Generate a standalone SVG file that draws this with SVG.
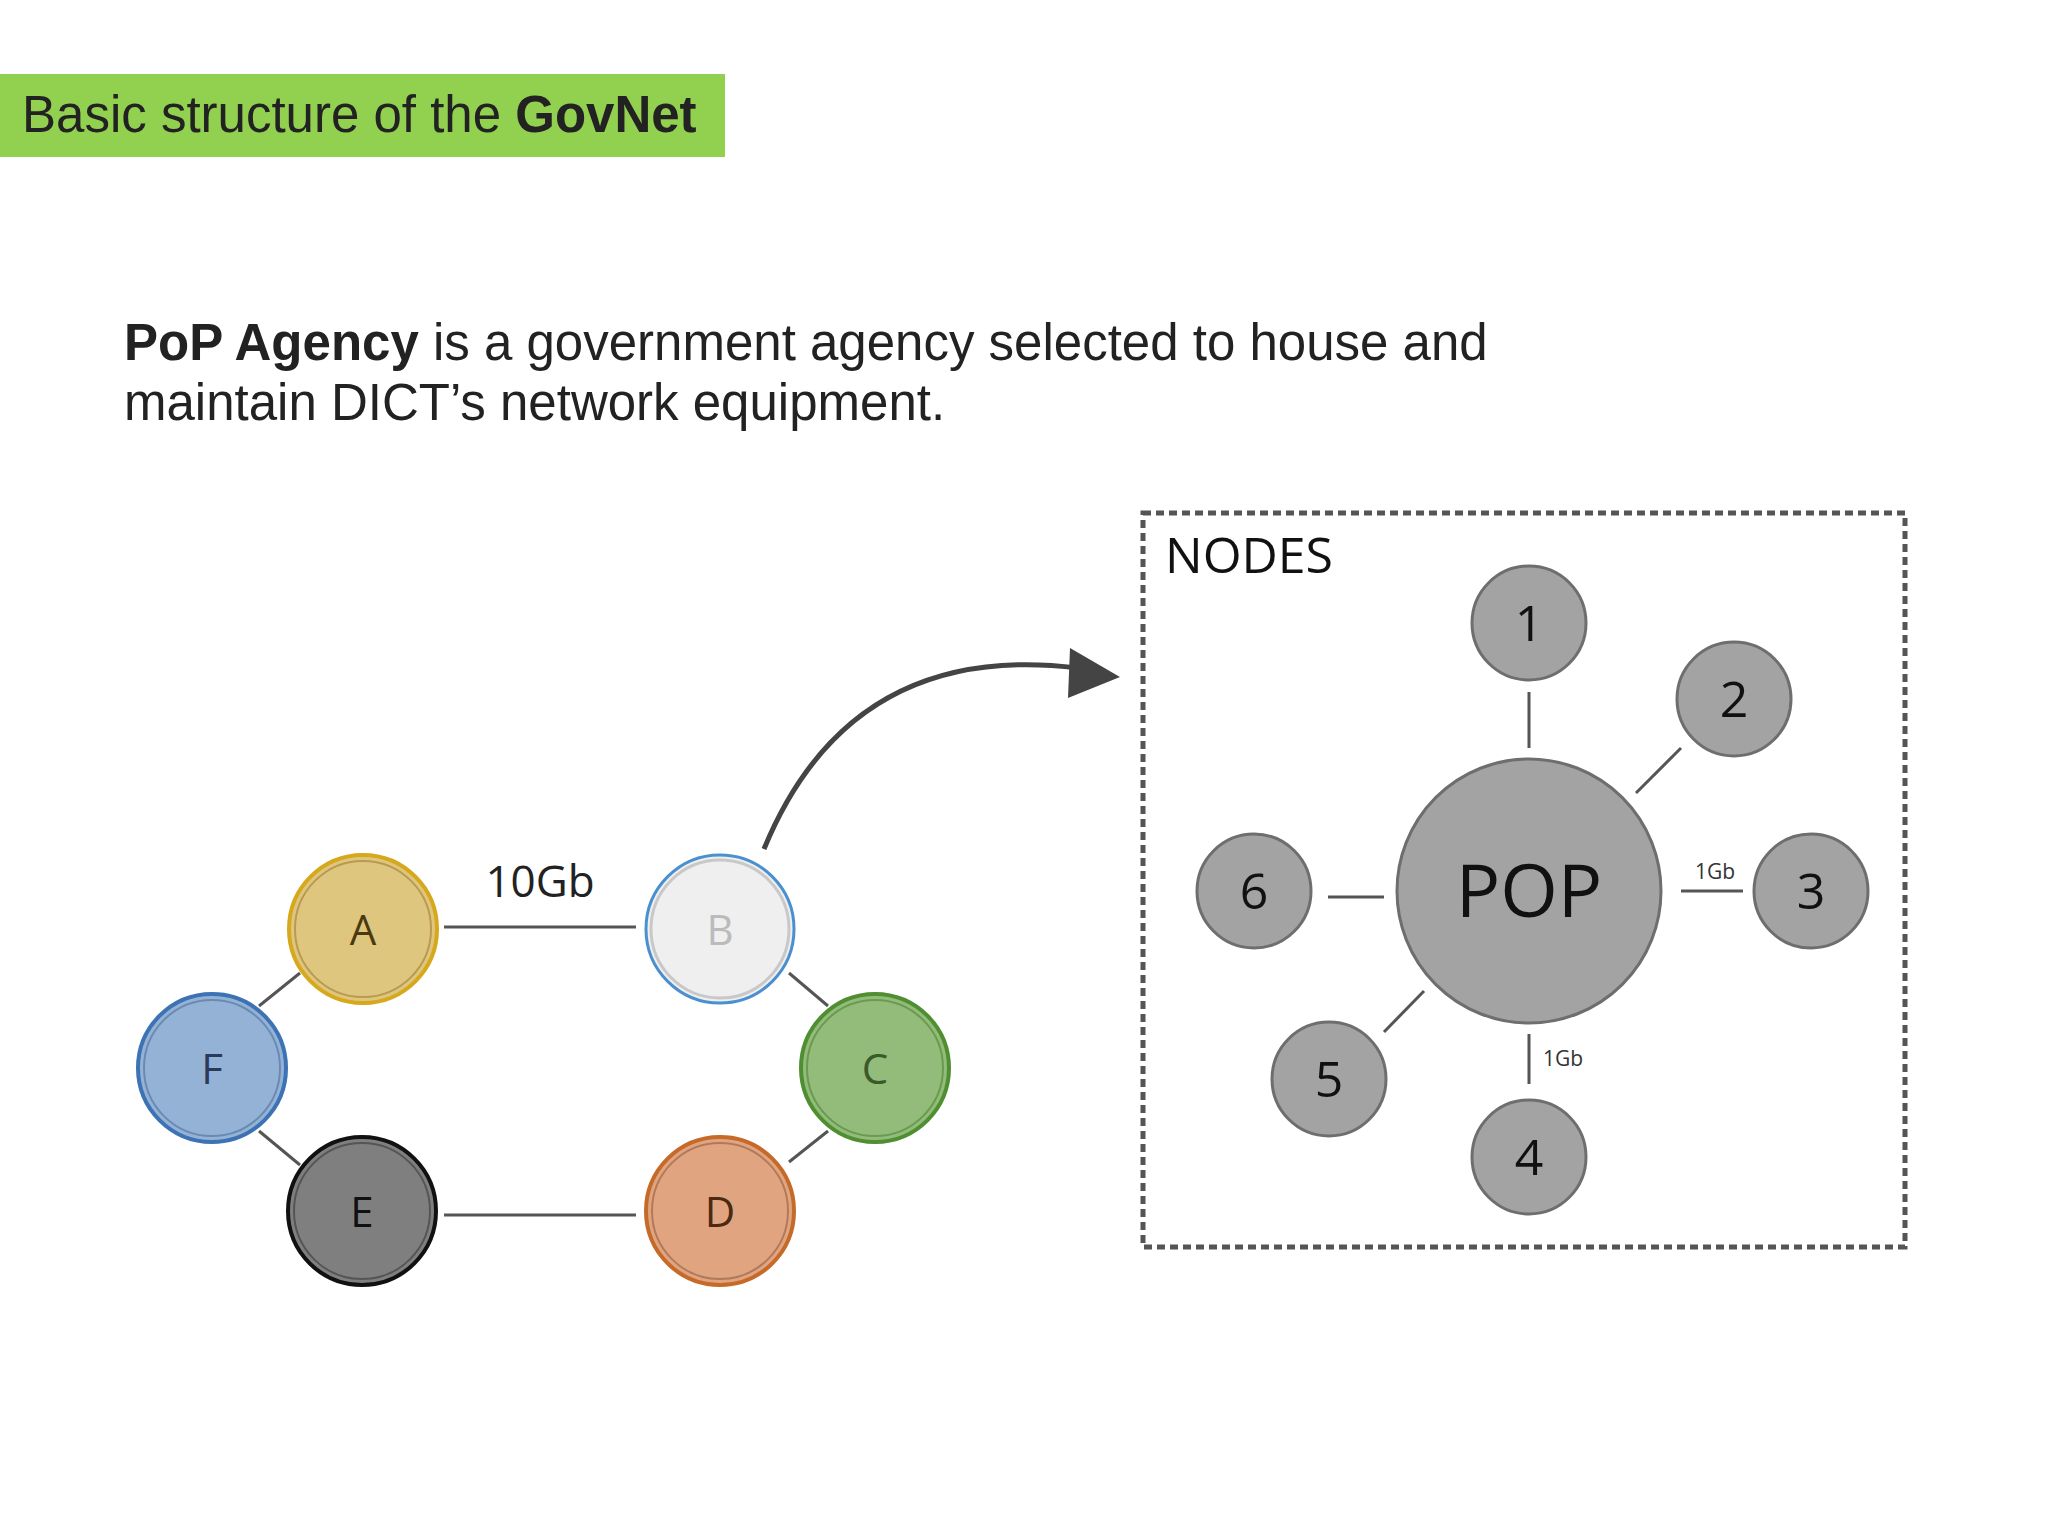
<svg xmlns="http://www.w3.org/2000/svg" width="2048" height="1536" viewBox="0 0 2048 1536">
<defs>
<style>
.t{font-family:"Liberation Sans",Arial,sans-serif;fill:#222}
.c{font-family:"Open Sans","DejaVu Sans",sans-serif;text-anchor:middle}
.ln{stroke:#555;stroke-width:3;fill:none}
.g{fill:#a3a3a3;stroke:#6e6e6e;stroke-width:3}
</style>
</defs>
<rect width="2048" height="1536" fill="#fff"/>
<rect x="0" y="74" width="725" height="83" fill="#92d050"/>
<text class="t" x="22" y="132" font-size="51">Basic structure of the <tspan font-weight="bold">GovNet</tspan></text>
<text class="t" x="124" y="360" font-size="51"><tspan font-weight="bold">PoP Agency</tspan> is a government agency selected to house and</text>
<text class="t" x="124" y="420" font-size="51">maintain DICT’s network equipment.</text>
<g id="connectors">
<line class="ln" x1="444" y1="927" x2="636" y2="927"/>
<line class="ln" x1="444" y1="1215" x2="636" y2="1215"/>
<line class="ln" x1="300" y1="973" x2="259" y2="1006"/>
<line class="ln" x1="789" y1="973" x2="828" y2="1006"/>
<line class="ln" x1="259" y1="1131" x2="300" y2="1165"/>
<line class="ln" x1="828" y1="1131" x2="789" y2="1162"/>
<path d="M764,849 Q850,640 1078,668" stroke="#444" stroke-width="5" fill="none"/>
<polygon points="1120,677 1070,648 1068,698" fill="#444"/>
<line class="ln" x1="1529" y1="692" x2="1529" y2="748"/>
<line class="ln" x1="1681" y1="748" x2="1636" y2="793"/>
<line class="ln" x1="1681" y1="891" x2="1743" y2="891"/>
<line class="ln" x1="1529" y1="1034" x2="1529" y2="1084"/>
<line class="ln" x1="1424" y1="991" x2="1384" y2="1032"/>
<line class="ln" x1="1328" y1="897" x2="1384" y2="897"/>
<text class="c" x="540" y="897" font-size="44" fill="#222">10Gb</text>
<text class="c" x="1715" y="879" font-size="21" fill="#333">1Gb</text>
<text class="c" x="1563" y="1066" font-size="21" fill="#333">1Gb</text>
</g>
<g id="A"><circle cx="363" cy="929" r="74" fill="#dfc67f" stroke="#d6a81c" stroke-width="4"/><circle cx="363" cy="929" r="68" fill="none" stroke="#b89a50" stroke-width="2"/><text class="c" x="363" y="945" font-size="42" fill="#4a3a10">A</text></g>
<g id="B"><circle cx="720" cy="929" r="74" fill="#efefef" stroke="#4a90d0" stroke-width="3"/><circle cx="720" cy="929" r="69" fill="none" stroke="#c8c8c8" stroke-width="3"/><text class="c" x="720" y="945" font-size="42" fill="#bbb">B</text></g>
<g id="C"><circle cx="875" cy="1068" r="74" fill="#93bb7a" stroke="#4f8f32" stroke-width="4"/><circle cx="875" cy="1068" r="68" fill="none" stroke="#6a9a50" stroke-width="2"/><text class="c" x="875" y="1084" font-size="42" fill="#3a5a2a">C</text></g>
<g id="D"><circle cx="720" cy="1211" r="74" fill="#e0a580" stroke="#c66a2a" stroke-width="4"/><circle cx="720" cy="1211" r="68" fill="none" stroke="#b07a5a" stroke-width="2"/><text class="c" x="720" y="1227" font-size="42" fill="#4a2a10">D</text></g>
<g id="E"><circle cx="362" cy="1211" r="74" fill="#7f7f7f" stroke="#111" stroke-width="4"/><circle cx="362" cy="1211" r="68" fill="none" stroke="#555" stroke-width="2"/><text class="c" x="362" y="1227" font-size="42" fill="#111">E</text></g>
<g id="F"><circle cx="212" cy="1068" r="74" fill="#93b2d6" stroke="#3d72b4" stroke-width="4"/><circle cx="212" cy="1068" r="68" fill="none" stroke="#6a8ab0" stroke-width="2"/><text class="c" x="212" y="1084" font-size="42" fill="#2a3a5a">F</text></g>
<g id="nodesbox"><rect x="1143" y="513" width="762" height="734" fill="none" stroke="#555" stroke-width="5" stroke-dasharray="8,5"/><text x="1165" y="573" font-family="'Open Sans','DejaVu Sans',sans-serif" font-size="50" fill="#111">NODES</text></g>
<g id="POP"><circle class="g" cx="1529" cy="891" r="132"/><text class="c" x="1529" y="917" font-size="74" fill="#111">POP</text></g>
<g id="n1"><circle class="g" cx="1529" cy="623" r="57"/><text class="c" x="1529" y="641" font-size="50" fill="#111">1</text></g>
<g id="n2"><circle class="g" cx="1734" cy="699" r="57"/><text class="c" x="1734" y="717" font-size="50" fill="#111">2</text></g>
<g id="n3"><circle class="g" cx="1811" cy="891" r="57"/><text class="c" x="1811" y="909" font-size="50" fill="#111">3</text></g>
<g id="n4"><circle class="g" cx="1529" cy="1157" r="57"/><text class="c" x="1529" y="1175" font-size="50" fill="#111">4</text></g>
<g id="n5"><circle class="g" cx="1329" cy="1079" r="57"/><text class="c" x="1329" y="1097" font-size="50" fill="#111">5</text></g>
<g id="n6"><circle class="g" cx="1254" cy="891" r="57"/><text class="c" x="1254" y="909" font-size="50" fill="#111">6</text></g>
</svg>
